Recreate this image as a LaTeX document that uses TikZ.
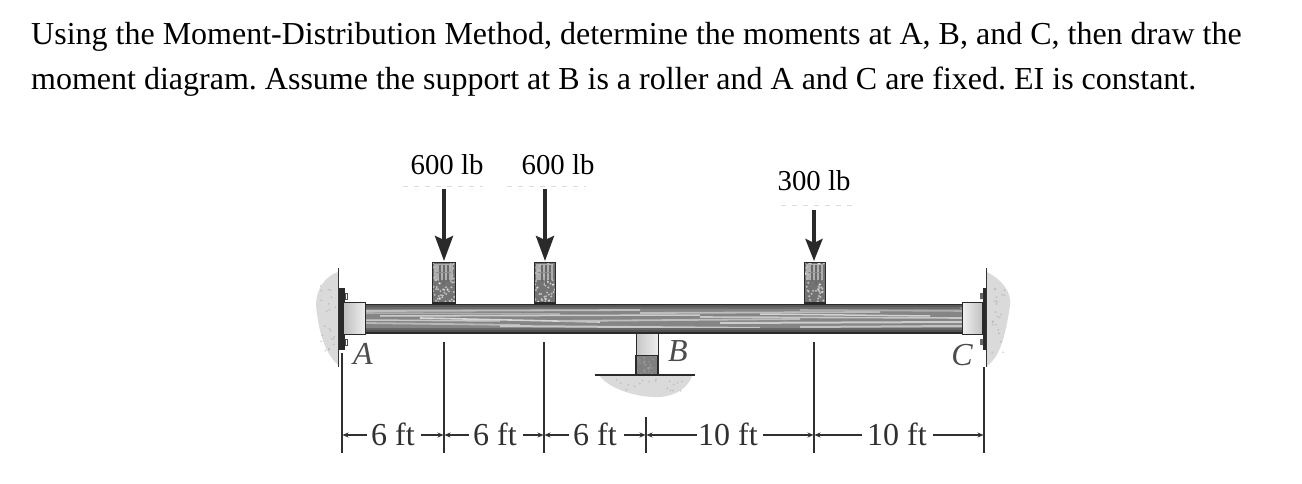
\documentclass[tikz,border=0pt]{standalone}
\usepackage{fontspec}
\setmainfont{Liberation Serif}
\usetikzlibrary{arrows.meta}
\definecolor{inkc}{HTML}{2A2A2A}
\definecolor{stone}{HTML}{DADADA}
\definecolor{woodd}{HTML}{858585}
\definecolor{dimc}{HTML}{303030}
\tikzset{
  x=1pt,y=-1pt,
  headline/.style={anchor=base west,inner sep=0pt,text=black,font=\fontsize{32}{34}\selectfont},
  loadlabel/.style={inner sep=0pt,text=black,font=\fontsize{28.8}{30}\selectfont},
  dimlabel/.style={inner sep=0pt,text=dimc,font=\fontsize{32}{34}\selectfont},
  pointlabel/.style={inner sep=0pt,text=black!70,font=\fontsize{32}{34}\selectfont\itshape},
  extline/.style={draw=dimc,line width=1.1pt},
  dimarrow/.style={draw=dimc,line width=1.1pt,-{Stealth[length=6pt,width=5pt]}},
  loadarrow/.style={draw=inkc,line width=3.8pt,-{Stealth[length=25pt,width=18pt,inset=4pt]},shorten >=-1pt},
  blockpart/.style={draw=inkc,line width=1.4pt},
  fadedash/.style={draw=black!14,line width=.8pt,dash pattern=on 5pt off 6pt},
}
\newcommand{\speckle}[5]{% x0 y0 w h count
  \foreach \i in {1,...,#5}{
    \pgfmathsetmacro{\px}{#1+rnd*#3}
    \pgfmathsetmacro{\py}{#2+rnd*#4}
    \fill[black!35,opacity=.5] (\px,\py) circle (1);
  }
}
\newcommand{\loadblock}[3]{% name x0 x1
  \fill[black!55] (#2,262) rectangle (#3,304);
  \pgfmathsetmacro{\bwid}{#3-#2}
  \foreach \i in {1,...,70}{
    \pgfmathsetmacro{\px}{#2+rnd*\bwid}
    \pgfmathsetmacro{\py}{262+rnd*42}
    \fill[white,opacity=.55] (\px,\py) circle (1.1);
  }
  \fill[black!28,opacity=.85] (#2+2,264) rectangle (#3-2,280);
  \draw[black!58,line width=1.1pt] (#2+8,265) -- (#2+8,282) (#2+12,265) -- (#2+12,285) (#2+16,265) -- (#2+16,282);
  \draw[black!45,line width=.8pt] (#2+4,272) -- (#3-4,272);
  \node[blockpart,draw,fill=none,inner sep=0pt,minimum width={(#3-#2)*1pt},minimum height=42pt,anchor=north west] (#1) at (#2,262) {};
  \draw[inkc,line width=2.2pt] (#2,303) -- (#3,303);
}
\begin{document}
\begin{tikzpicture}
\pgfmathsetseed{4211}
\useasboundingbox (0,0) rectangle (1302,484);
\fill[white] (0,0) rectangle (1302,484);

% heading
\node[headline] (lineone) at (31,45) {\frenchspacing Using the Moment-Distribution Method, determine the moments at A, B, and C, then draw the};
\node[headline] (linetwo) at (31,90) {\frenchspacing moment diagram. Assume the support at B is a roller and A and C are fixed. EI is constant.};

% walls
\fill[stone] (338,272) .. controls (325,276) and (316,290) .. (316,305)
  .. controls (318,325) and (322,350) .. (338,365) -- cycle;
\speckle{320}{285}{16}{70}{22}
\fill[stone] (987,272) .. controls (1002,280) and (1012,292) .. (1010,306)
  .. controls (1006,330) and (1002,355) .. (987,366) -- cycle;
\speckle{989}{285}{16}{70}{22}
% ground under B
\fill[stone] (600,376) .. controls (610,390) and (640,398) .. (660,397)
  .. controls (675,396) and (688,388) .. (692,376) -- cycle;
\speckle{612}{378}{70}{15}{18}

% beam
\fill[woodd] (365,304) rectangle (962,333);
\foreach \ya/\yb/\xa/\xb/\gr/\lw in {
  308/308/365/960/58/2, 311/310/365/640/26/1.8, 313/314/365/560/32/1.6, 316/315/380/700/20/1.5, 318/322/420/600/16/1.6,
  323/325/365/520/28/1.8, 326/328/500/760/22/2, 321/319/560/800/26/1.8, 313/312/640/880/26/1.8,
  317/318/700/962/22/1.6, 323/322/720/962/20/2, 327/326/800/962/24/2, 310/311/800/962/32/1.6,
  329/329/365/962/60/2, 320/321/365/500/22/1.5, 314/316/760/930/18/1.5, 306/306/365/962/65/1.2, 331/331/365/962/68/1.2}{
  \draw[black!\gr,line width=\lw pt] (\xa,\ya) -- (\xb,\yb);
}
\draw[inkc,line width=1.4pt] (365,304.5) -- (962,304.5) (365,333) -- (962,333);

% left fixing
\draw[black!80,line width=1pt] (338,268) -- (338,367);
\fill[inkc] (339,288) rectangle (344.5,350);
\draw[black!70,line width=1pt] (345,293) rectangle (347.5,299) (345,339) rectangle (347.5,345);
\node[draw=inkc,line width=1.3pt,shade,left color=black!25,right color=black!6,inner sep=0pt,minimum width=22pt,minimum height=32pt,anchor=north west] (A) at (343,302) {};
% right fixing
\draw[black!80,line width=1pt] (986,268) -- (986,367);
\fill[inkc] (983,288) rectangle (986,350);
\fill[black!60] (980,293) rectangle (983,299) (980,339) rectangle (983,345);
\node[draw=inkc,line width=1.3pt,shade,left color=black!6,right color=black!25,inner sep=0pt,minimum width=20pt,minimum height=32pt,anchor=north west] (C) at (962,302) {};

% roller support
\fill[black!50] (636,355) rectangle (658,375);
\speckle{637}{356}{20}{18}{30}
\node[draw=inkc,line width=1.3pt,shade,left color=black!22,right color=black!6,inner sep=0pt,minimum width=22pt,minimum height=22pt,anchor=north west] (Bb) at (636,333) {};
\draw[inkc,line width=1.3pt] (636,355) -- (636,375) (658,355) -- (658,375);
\coordinate (gl) at (595,375);
\coordinate (gr) at (695,375);
\draw[inkc,line width=1.3pt] (gl) -- (gr);

% load blocks
\loadblock{lo}{432}{455}
\loadblock{lt}{534}{555}
\loadblock{lh}{804}{825}

% loads
\coordinate (ao) at (444,189);
\coordinate (bo) at (444,260);
\coordinate (at) at (545,189);
\coordinate (bt) at (545,260);
\coordinate (ah) at (814,210);
\coordinate (bh) at (814,260);
\draw[loadarrow] (ao) -- (bo);
\draw[loadarrow] (at) -- (bt);
\draw[loadarrow,-{Stealth[length=22pt,width=17pt,inset=4pt]}] (ah) -- (bh);
\draw[fadedash] (403,186.5) -- (483,186.5);
\draw[fadedash] (507,186.5) -- (586,186.5);
\draw[fadedash] (781,205.5) -- (852,205.5);
\node[loadlabel] (fo) at (447,165) {600 lb};
\node[loadlabel] (ft) at (558,165) {600 lb};
\node[loadlabel] (fh) at (814,181) {300 lb};

% point labels
\node[pointlabel] (la) at (363,354) {A};
\node[pointlabel] (lb) at (678,351) {B};
\node[pointlabel] (lc) at (962,355) {C};

% extension lines
\coordinate (ea) at (342,353); \coordinate (fa) at (342,453);
\coordinate (eb) at (444,342); \coordinate (fb) at (444,453);
\coordinate (ec) at (544,342); \coordinate (fc) at (544,453);
\coordinate (ed) at (646,417); \coordinate (fd) at (646,453);
\coordinate (ee) at (814,342); \coordinate (fe) at (814,453);
\coordinate (eg) at (984,367); \coordinate (fg) at (984,453);
\foreach \p/\q in {ea/fa,eb/fb,ec/fc,ed/fd,ee/fe,eg/fg}{\draw[extline] (\p) -- (\q);}

% dimension labels
\node[dimlabel] (da) at (393,434) {6 ft};
\node[dimlabel] (db) at (495,434) {6 ft};
\node[dimlabel] (dc) at (595,434) {6 ft};
\node[dimlabel] (dd) at (728,434) {10 ft};
\node[dimlabel] (de) at (897,434) {10 ft};
% dimension arrows
\coordinate (a1) at (342.5,435); \coordinate (a2) at (443.5,435);
\coordinate (a3) at (444.5,435); \coordinate (a4) at (543.5,435);
\coordinate (a5) at (544.5,435); \coordinate (a6) at (645.5,435);
\coordinate (a7) at (646.5,435); \coordinate (a8) at (813.5,435);
\coordinate (a9) at (814.5,435); \coordinate (a10) at (983.5,435);
\coordinate (s1) at (367,435); \coordinate (s2) at (421,435);
\coordinate (s3) at (469,435); \coordinate (s4) at (523,435);
\coordinate (s5) at (569,435); \coordinate (s6) at (624,435);
\coordinate (s7) at (697,435); \coordinate (s8) at (763,435);
\coordinate (s9) at (862,435); \coordinate (s10) at (933,435);
\foreach \p/\q in {s1/a1,s2/a2,s3/a3,s4/a4,s5/a5,s6/a6,s7/a7,s8/a8,s9/a9,s10/a10}{\draw[dimarrow] (\p) -- (\q);}
\end{tikzpicture}
\end{document}
